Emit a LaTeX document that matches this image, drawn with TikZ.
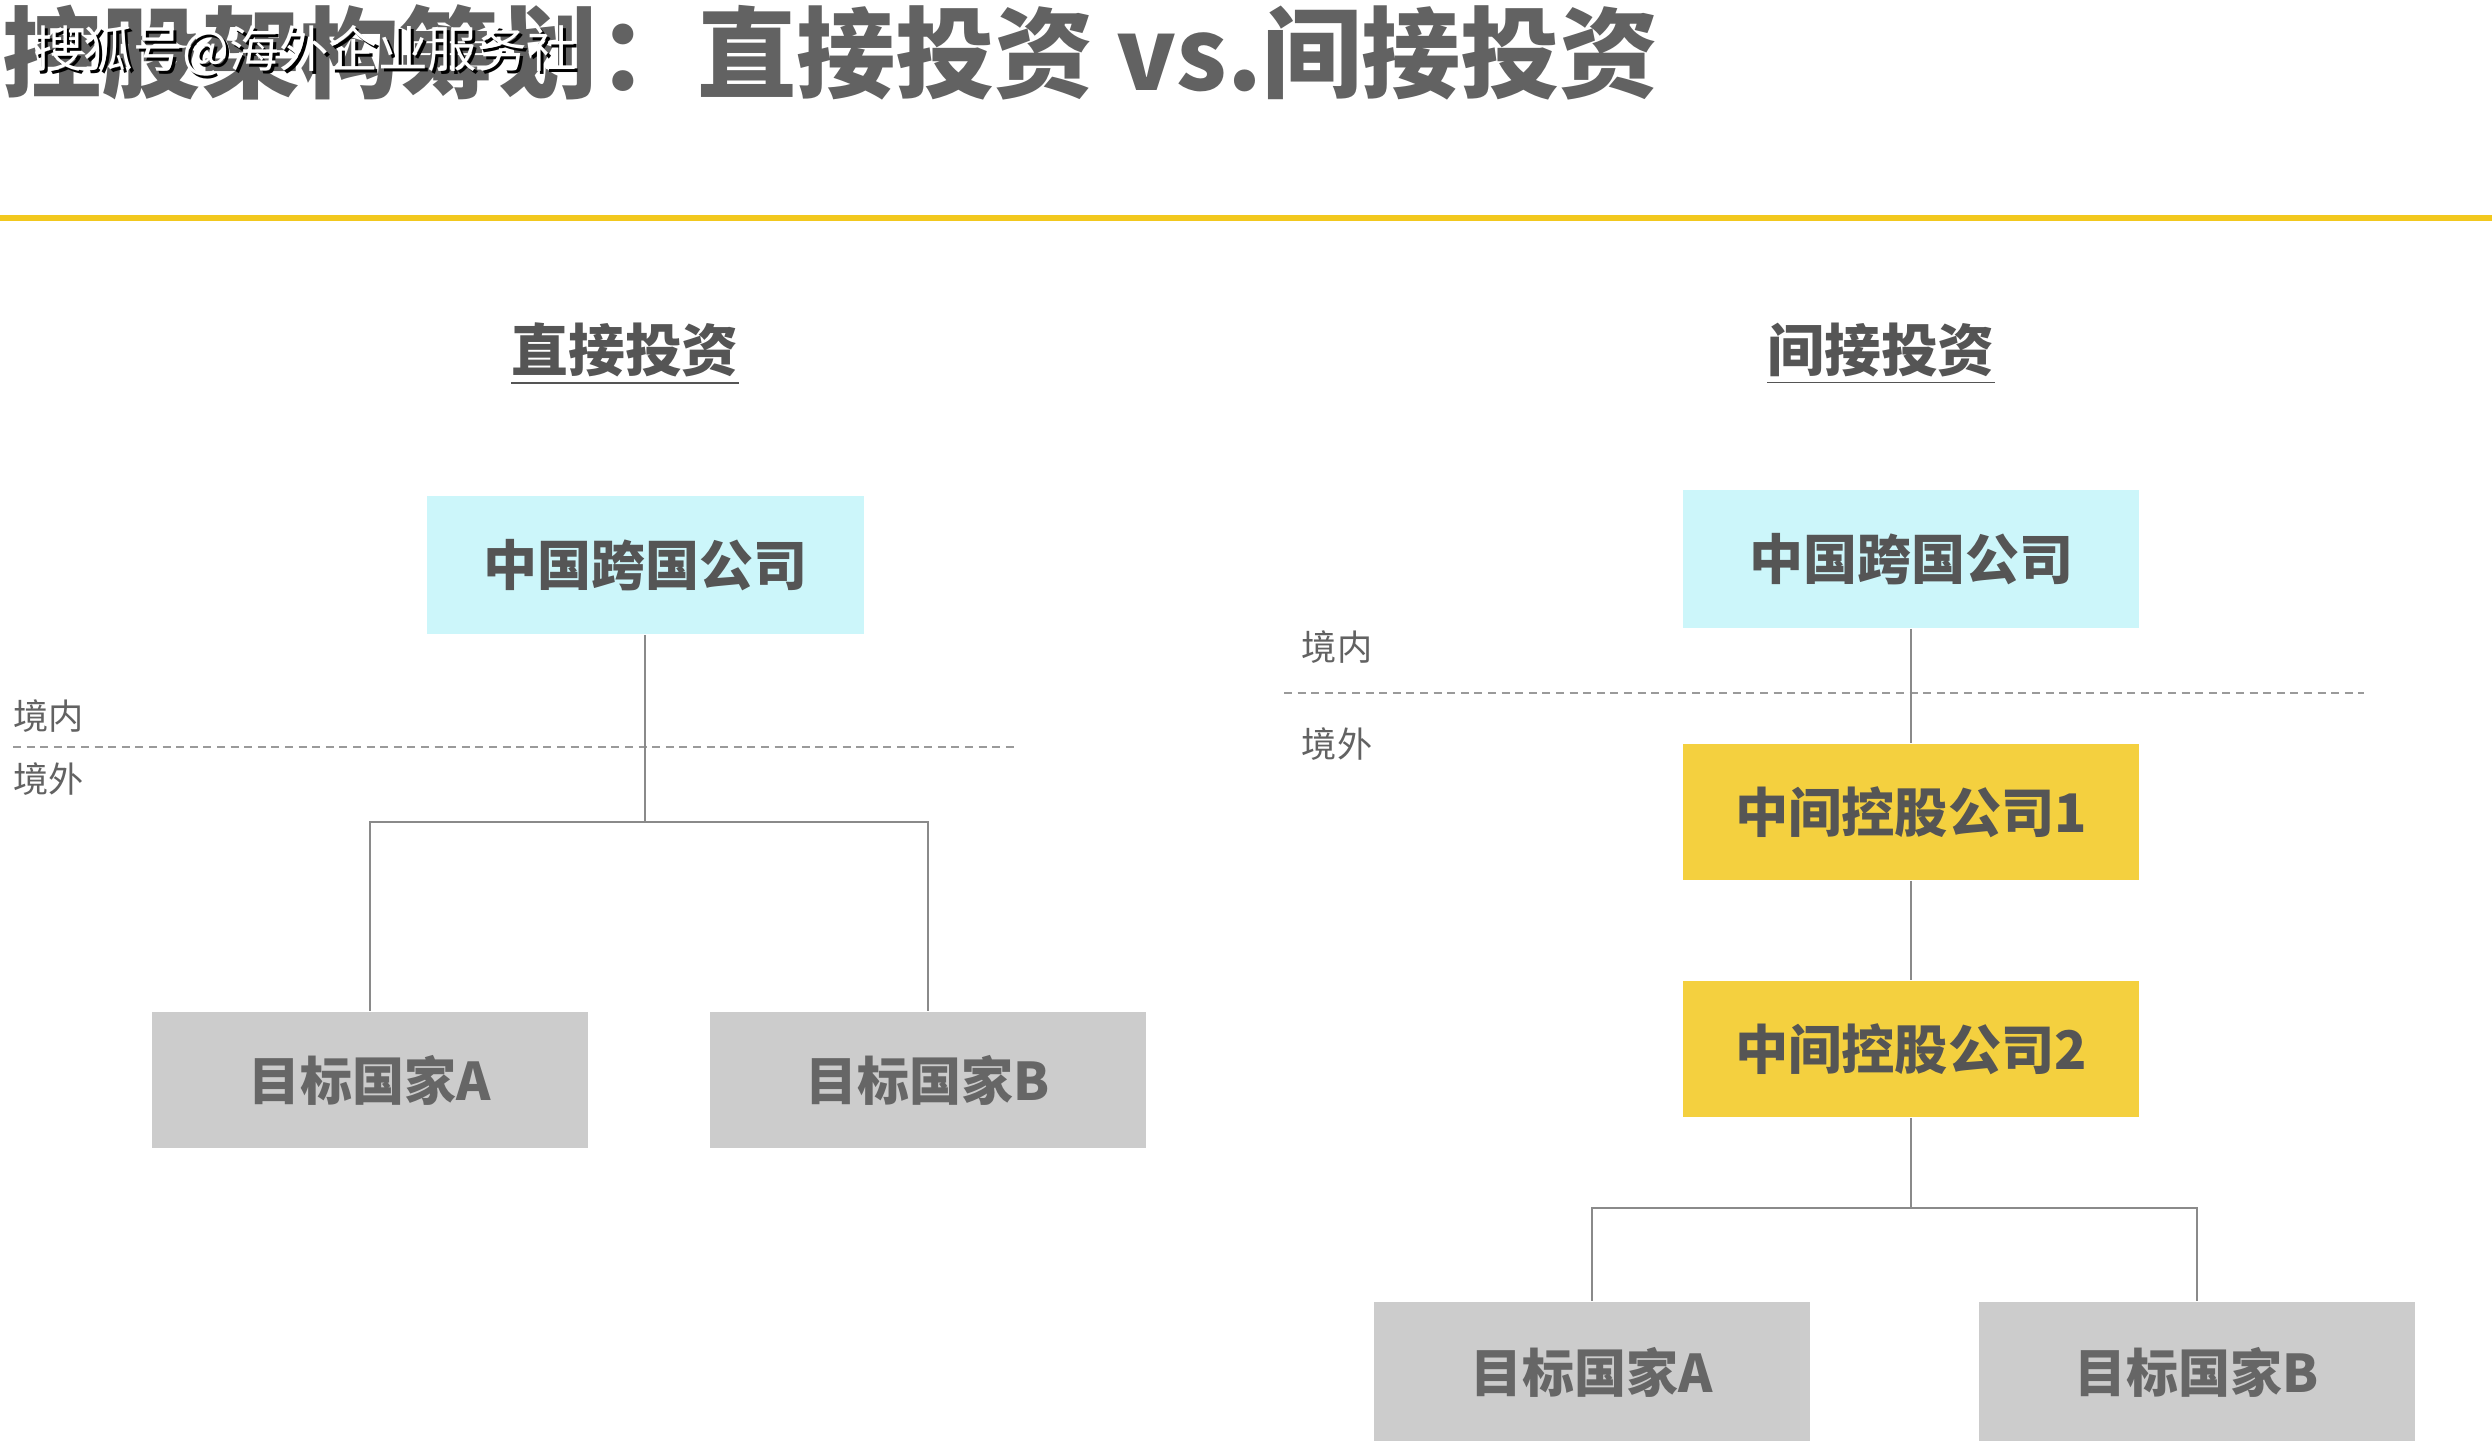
\documentclass[tikz,border=0pt]{standalone}
\usepackage{fontspec}
\setmainfont{Noto Sans CJK SC}
\usepackage{tikz}
\usetikzlibrary{positioning, calc}

\definecolor{inkgray}{HTML}{626262}
\definecolor{boxtext}{HTML}{555555}
\definecolor{targettext}{HTML}{666666}
\definecolor{linegray}{HTML}{8A8A8A}
\definecolor{dashgray}{HTML}{9A9A9A}
\definecolor{parentcyan}{HTML}{CCF6FA}
\definecolor{holdyellow}{HTML}{F4D03F}
\definecolor{targetgray}{HTML}{CCCCCC}
\definecolor{rulegold}{HTML}{F2C81E}

\tikzset{
	parentbox/.style = {fill=parentcyan, inner sep=0pt, minimum height=34.5pt, text=boxtext, font=\bfseries\fontsize{13.5}{14}\selectfont},
	holdbox/.style = {fill=holdyellow, inner sep=0pt, minimum width=114pt, minimum height=34pt, text=boxtext, font=\bfseries\fontsize{13.3}{14}\selectfont},
	targetbox/.style = {fill=targetgray, inner sep=0pt, minimum width=109pt, minimum height=34pt, text=targettext, font=\bfseries\fontsize{13}{14}\selectfont},
	heading/.style = {text=boxtext, font=\bfseries\fontsize{14.2}{15}\selectfont},
	sidenote/.style = {text=inkgray, font=\fontsize{8.8}{9}\selectfont, anchor=west, inner sep=0pt},
	link/.style = {draw=linegray, line width=0.7pt},
	border/.style = {draw=dashgray, line width=0.6pt, dash pattern=on 2pt off 1.4pt}
}

\begin{document}
\begin{tikzpicture}[x=0.25pt, y=-0.25pt]
	\useasboundingbox (0,0) rectangle (2492,1440);
	\clip (0,0) rectangle (2492,1440);
	\fill[white] (0,0) rectangle (2492,1440);

	% title and watermark
	\node[anchor=west, inner sep=0pt, text=inkgray, font=\bfseries\fontsize{24.8}{26}\selectfont] (title) at (2,52) {控股架构筹划：直接投资 vs.间接投资};
	\node[anchor=west, inner sep=0pt, text=black, font=\fontsize{12.4}{13}\selectfont] (wmshade) at (36,54) {搜狐号@海外企业服务社};
	\node[anchor=west, inner sep=0pt, text=white, font=\fontsize{12.4}{13}\selectfont] (wm) at (33,51) {搜狐号@海外企业服务社};
	\draw[rulegold, line width=1.6pt] (0,218) -- (2492,218);

	% direct
	\node[heading] (lhead) at (625,354) {\underline{直接投资}};
	\node[parentbox, minimum width=109.25pt] (ltop) at (645,565) {中国跨国公司};
	\node[targetbox] (lA) at (370,1080) {目标国家A};
	\node[targetbox] (lB) at (928,1080) {目标国家B};
	\coordinate (lleft) at (13,747);
	\coordinate (lright) at (1017,747);
	\coordinate (ljoin) at (645,822);
	\node[sidenote] (lin) at (13,716) {境内};
	\node[sidenote] (lout) at (13,779) {境外};
	\draw[border] (lleft) -- (lright);
	\draw[link] (ltop.south) -- (ljoin) -| (lA.north);
	\draw[link] (ljoin) -| (lB.north);

	% indirect
	\node[heading] (rhead) at (1881,354) {\underline{间接投资}};
	\node[parentbox, minimum width=114pt] (rtop) at (1911,559) {中国跨国公司};
	\node[holdbox] (hold1) at (1911,812) {中间控股公司1};
	\node[holdbox] (hold2) at (1911,1049) {中间控股公司2};
	\node[targetbox, minimum height=35pt] (rA) at (1592,1372) {目标国家A};
	\node[targetbox, minimum height=35pt] (rB) at (2197,1372) {目标国家B};
	\coordinate (rleft) at (1284,693);
	\coordinate (rright) at (2364,693);
	\coordinate (rjoin) at (1911,1208);
	\node[sidenote] (rin) at (1301,647) {境内};
	\node[sidenote] (rout) at (1301,744) {境外};
	\draw[border] (rleft) -- (rright);
	\draw[link] (rtop.south) -- (hold1.north);
	\draw[link] (hold1.south) -- (hold2.north);
	\draw[link] (hold2.south) -- (rjoin) -| (rA.north);
	\draw[link] (rjoin) -| (rB.north);
\end{tikzpicture}
\end{document}
